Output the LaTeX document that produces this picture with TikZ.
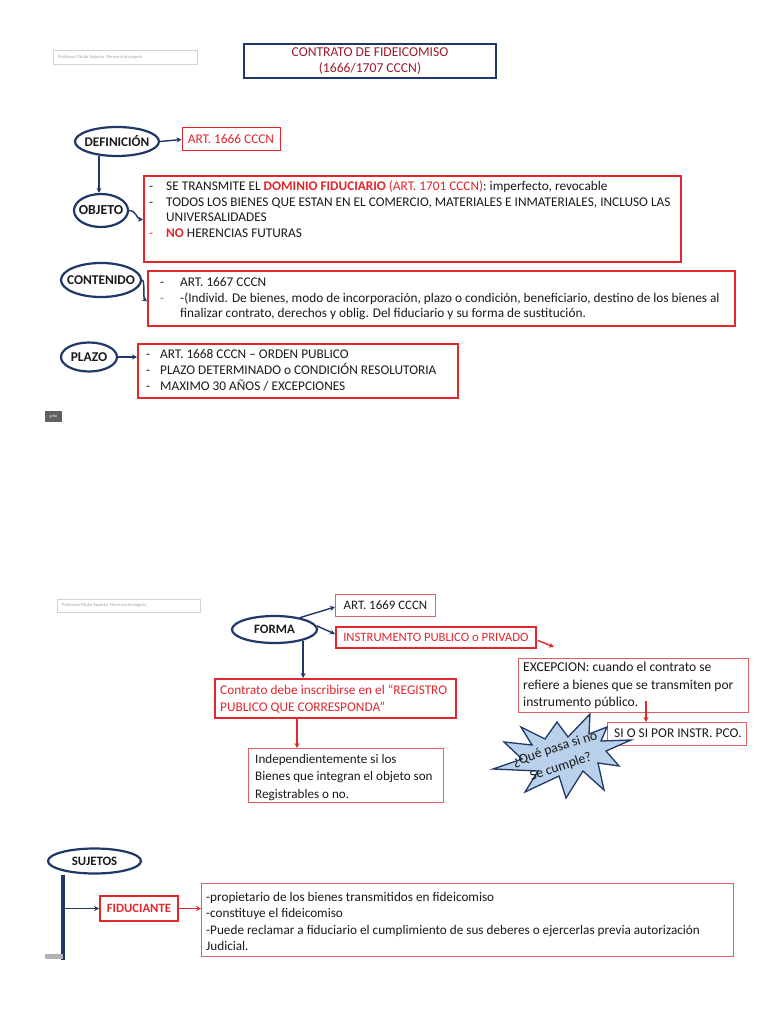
\documentclass[tikz,border=0pt]{standalone}
\usepackage{fontspec}
\setmainfont{Carlito}
\usetikzlibrary{shapes.geometric,arrows.meta,calc}
\definecolor{navy}{HTML}{1F3868}
\definecolor{myred}{HTML}{E3262A}
\definecolor{thinred}{HTML}{E06060}
\definecolor{titlered}{HTML}{9B1C2E}
\definecolor{txt}{HTML}{1A1A1A}
\definecolor{starfill}{HTML}{B9D1EA}
\newcommand{\dashitem}[2][18pt]{\makebox[#1][l]{-}#2}
\newcommand{\topstrut}{\rule{0pt}{11pt}}
\newcommand{\ovtext}[1]{\makebox[0pt]{#1}}
\begin{document}
\begin{tikzpicture}[x=1pt,y=-1pt,
  oval/.style={ellipse, draw=navy, line width=2.2pt, fill=white, inner sep=0pt,
    font=\bfseries\fontsize{12.8}{14}\selectfont, text=txt},
  redbox/.style={draw=myred, line width=1.8pt, inner sep=0pt, anchor=north west},
  thinbox/.style={draw=thinred, line width=1pt, inner sep=0pt, anchor=north west},
  boxtext/.style={anchor=north west, inner sep=0pt, align=left,
    font=\fontsize{13.3}{15.6}\selectfont, text=txt},
  navyarrow/.style={draw=navy, line width=1.4pt, -{Stealth[length=5pt,width=5pt]}},
  redarrow/.style={draw=myred, line width=1.4pt, -{Stealth[length=5pt,width=5pt]}},
  profbox/.style={draw=gray!35, line width=0.6pt, anchor=north west, inner sep=0pt},
  proftext/.style={anchor=west, inner sep=0pt, font=\fontsize{4.5}{5}\selectfont, text=gray!75}
]
\useasboundingbox (0,0) rectangle (768,1024);
\fill[white] (0,0) rectangle (768,1024);

% ---------- slide 1 ----------
\node[profbox, minimum width=144pt, minimum height=14pt] (prof1) at (53,50) {};
\node[proftext] (prof1t) at (58,57) {Profesora Titular Experta: Florencia Arcángelo.};

\node[draw=navy, line width=2pt, anchor=north west, minimum width=252pt, minimum height=34pt, inner sep=0pt] (title) at (243,43) {};
\node[align=center, inner sep=0pt, font=\fontsize{13.6}{16}\selectfont, text=titlered] (titlet) at (title.center) {CONTRATO DE FIDEICOMISO\\(1666/1707 CCCN)};

\node[oval, minimum width=84pt, minimum height=29pt, font=\bfseries\fontsize{13.2}{14}\selectfont] (def) at (117,141.5) {\ovtext{DEFINICIÓN}};
\node[draw=myred, line width=1pt, minimum width=98pt, minimum height=23pt, inner sep=0pt,
  text=myred, font=\fontsize{13.3}{15}\selectfont] (art1666) at (231,139.5) {ART. 1666 CCCN};
\draw[navyarrow] (def.east) -- (art1666.west);

\node[oval, minimum width=54pt, minimum height=33pt, font=\bfseries\fontsize{13.8}{14}\selectfont] (obj) at (101,210.5) {\ovtext{OBJETO}};
\coordinate (defdown) at (99,156);
\draw[navyarrow] (defdown) -- (defdown |- obj.north);

\node[redbox, minimum width=537pt, minimum height=86pt] (objbox) at (143,175) {};
\node[boxtext] (objtext) at (149,179.2) {%
\dashitem[17pt]{\topstrut SE TRANSMITE EL \textcolor{myred}{\textbf{DOMINIO FIDUCIARIO}} \textcolor{myred}{(ART. 1701 CCCN)}: imperfecto, revocable}\\
\dashitem[17pt]{TODOS LOS BIENES QUE ESTAN EN EL COMERCIO, MATERIALES E INMATERIALES, INCLUSO LAS}\\
\hspace*{17pt}UNIVERSALIDADES\\
\textcolor{myred}{\dashitem[17pt]{\textbf{NO}}} HERENCIAS FUTURAS};
\draw[navyarrow] (obj.east) .. controls ($(obj.east)+(7,0)$) and ($(objbox.west)+(-6,0)$) .. ($(objbox.west)+(0,1)$);

\node[oval, minimum width=80pt, minimum height=34pt, font=\bfseries\fontsize{13.4}{14}\selectfont] (cont) at (101,280) {\ovtext{CONTENIDO}};
\node[redbox, minimum width=587pt, minimum height=55pt] (contbox) at (147,270) {};
\node[boxtext] (conttext) at (160,275.2) {%
\dashitem[20pt]{\topstrut ART. 1667 CCCN}\\
\textcolor{gray}{\dashitem[20pt]{}}-(Individ. De bienes, modo de incorporación, plazo o condición, beneficiario, destino de los bienes al\\
\hspace*{20pt}finalizar contrato, derechos y oblig. Del fiduciario y su forma de sustitución.};
\draw[navyarrow] (cont.east) .. controls ($(cont.east)+(3,0)$) and ($(contbox.west)+(-4,0)$) .. ($(contbox.west)+(0,3)$);

\node[oval, minimum width=56pt, minimum height=29pt, font=\bfseries\fontsize{13.5}{14}\selectfont] (plazo) at (89,357) {\ovtext{PLAZO}};
\node[redbox, minimum width=320pt, minimum height=54pt] (plazobox) at (137,343) {};
\node[boxtext, font=\fontsize{13.3}{16}\selectfont] (plazotext) at (146,347.2) {%
\dashitem[14pt]{\topstrut ART. 1668 CCCN -- ORDEN PUBLICO}\\
\dashitem[14pt]{PLAZO DETERMINADO o CONDICIÓN RESOLUTORIA}\\
\dashitem[14pt]{MAXIMO 30 AÑOS / EXCEPCIONES}};
\draw[navyarrow] (plazo.east) -- (plazobox.west |- plazo.east);

\node[fill=gray!75!black, text=white, minimum width=17pt, minimum height=11pt, inner sep=0pt,
  font=\fontsize{4}{5}\selectfont] (grito) at (53.5,416) {grito};

% ---------- slide 2 ----------
\node[profbox, minimum width=143pt, minimum height=13pt] (prof2) at (57,599) {};
\node[proftext] (prof2t) at (62,605.5) {Profesora Titular Experta: Florencia Arcángelo.};

\node[oval, minimum width=85pt, minimum height=27pt] (forma) at (274.5,629.5) {\ovtext{FORMA}};
\node[draw=thinred, line width=1pt, anchor=north west, minimum width=100pt, minimum height=22pt, inner sep=0pt,
  text=txt, font=\fontsize{12.9}{14}\selectfont] (art1669) at (335,594) {ART. 1669 CCCN};
\node[redbox, minimum width=200pt, minimum height=21pt, text=myred, font=\fontsize{12.7}{14}\selectfont] (instr) at (335,626) {INSTRUMENTO PUBLICO o PRIVADO};
\draw[navyarrow] (forma.25) -- (art1669.west |- 0,607);
\draw[navyarrow] (forma.5) -- (instr.west |- 0,634);
\coordinate (instrtip) at (554,647);
\draw[redarrow] ($(instr.east)+(1,3)$) -- (instrtip);

\node[thinbox, minimum width=230pt, minimum height=54pt] (exc) at (518,658) {};
\node[boxtext, font=\fontsize{13.6}{17.5}\selectfont] (exctext) at (523,660.3) {%
\topstrut EXCEPCION: cuando el contrato se\\
refiere a bienes que se transmiten por\\
instrumento público.};

\node[thinbox, minimum width=139pt, minimum height=23pt] (sibox) at (607,722) {};
\coordinate (excarr) at (646,701);
\draw[redarrow] (excarr) -- (excarr |- sibox.north);

% star
\filldraw[fill=starfill, draw=navy, line width=1.3pt, line join=miter]
 (557,722) -- (568,737) -- (590,714) -- (589,734) -- (607,727) -- (601,741) -- (631,740)
 -- (606,751) -- (619,766) -- (598,763) -- (604,790) -- (583,771) -- (566,798) -- (559,776)
 -- (525,792) -- (538,771) -- (493,769) -- (522,759) -- (504,742) -- (532,745) -- (521,727)
 -- (545,739) -- cycle;
\node[align=center, inner sep=0pt, rotate=18, font=\fontsize{13.8}{19}\selectfont, text=txt] (startext) at (558,758) {¿Qué pasa si no\\Se cumple?};
\node[anchor=west, inner sep=0pt, font=\fontsize{13.4}{15}\selectfont, text=txt] (sitext) at (614,733.5) {SI O SI POR INSTR. PCO.};

\node[redbox, minimum width=241pt, minimum height=39pt] (contr) at (214,678) {};
\node[boxtext, font=\fontsize{13.3}{17}\selectfont, text=myred] (contrtext) at (220,683.2) {%
\topstrut Contrato debe inscribirse en el “REGISTRO\\
PUBLICO QUE CORRESPONDA”};
\draw[navyarrow] (forma.-21) -- (forma.-21 |- contr.north);

\node[thinbox, minimum width=195pt, minimum height=54pt] (indep) at (248,748) {};
\node[boxtext, font=\fontsize{13.1}{17.5}\selectfont] (indeptext) at (255,752.2) {%
\topstrut Independientemente si los\\
Bienes que integran el objeto son\\
Registrables o no.};
\coordinate (redx) at (297,0);
\draw[redarrow] (contr.south -| redx) -- (indep.north -| redx);

\node[oval, minimum width=93pt, minimum height=25pt] (suj) at (94.5,861) {\ovtext{SUJETOS}};
\coordinate (sujbot) at (63,960);
\draw[navy, line width=3.5pt] (suj.south -| sujbot) -- (sujbot);
\node[redbox, anchor=center, minimum width=78pt, minimum height=25pt, text=myred,
  font=\bfseries\fontsize{12.7}{14}\selectfont] (fiduc) at (139,908.5) {FIDUCIANTE};
\draw[navyarrow] (sujbot |- fiduc.west) -- (fiduc.west);
\node[thinbox, minimum width=532pt, minimum height=73pt] (fidbox) at (201,883) {};
\node[boxtext, font=\fontsize{13.2}{16.3}\selectfont] (fidtext) at (206,890.2) {%
\topstrut -propietario de los bienes transmitidos en fideicomiso\\
-constituye el fideicomiso\\
-Puede reclamar a fiduciario el cumplimiento de sus deberes o ejercerlas previa autorización\\
Judicial.};
\draw[redarrow] (fiduc.east) -- (fidbox.west |- fiduc.east);
\node[fill=gray!60, minimum width=18pt, minimum height=5pt, inner sep=0pt] (mark) at (54,956) {};
\end{tikzpicture}
\end{document}
